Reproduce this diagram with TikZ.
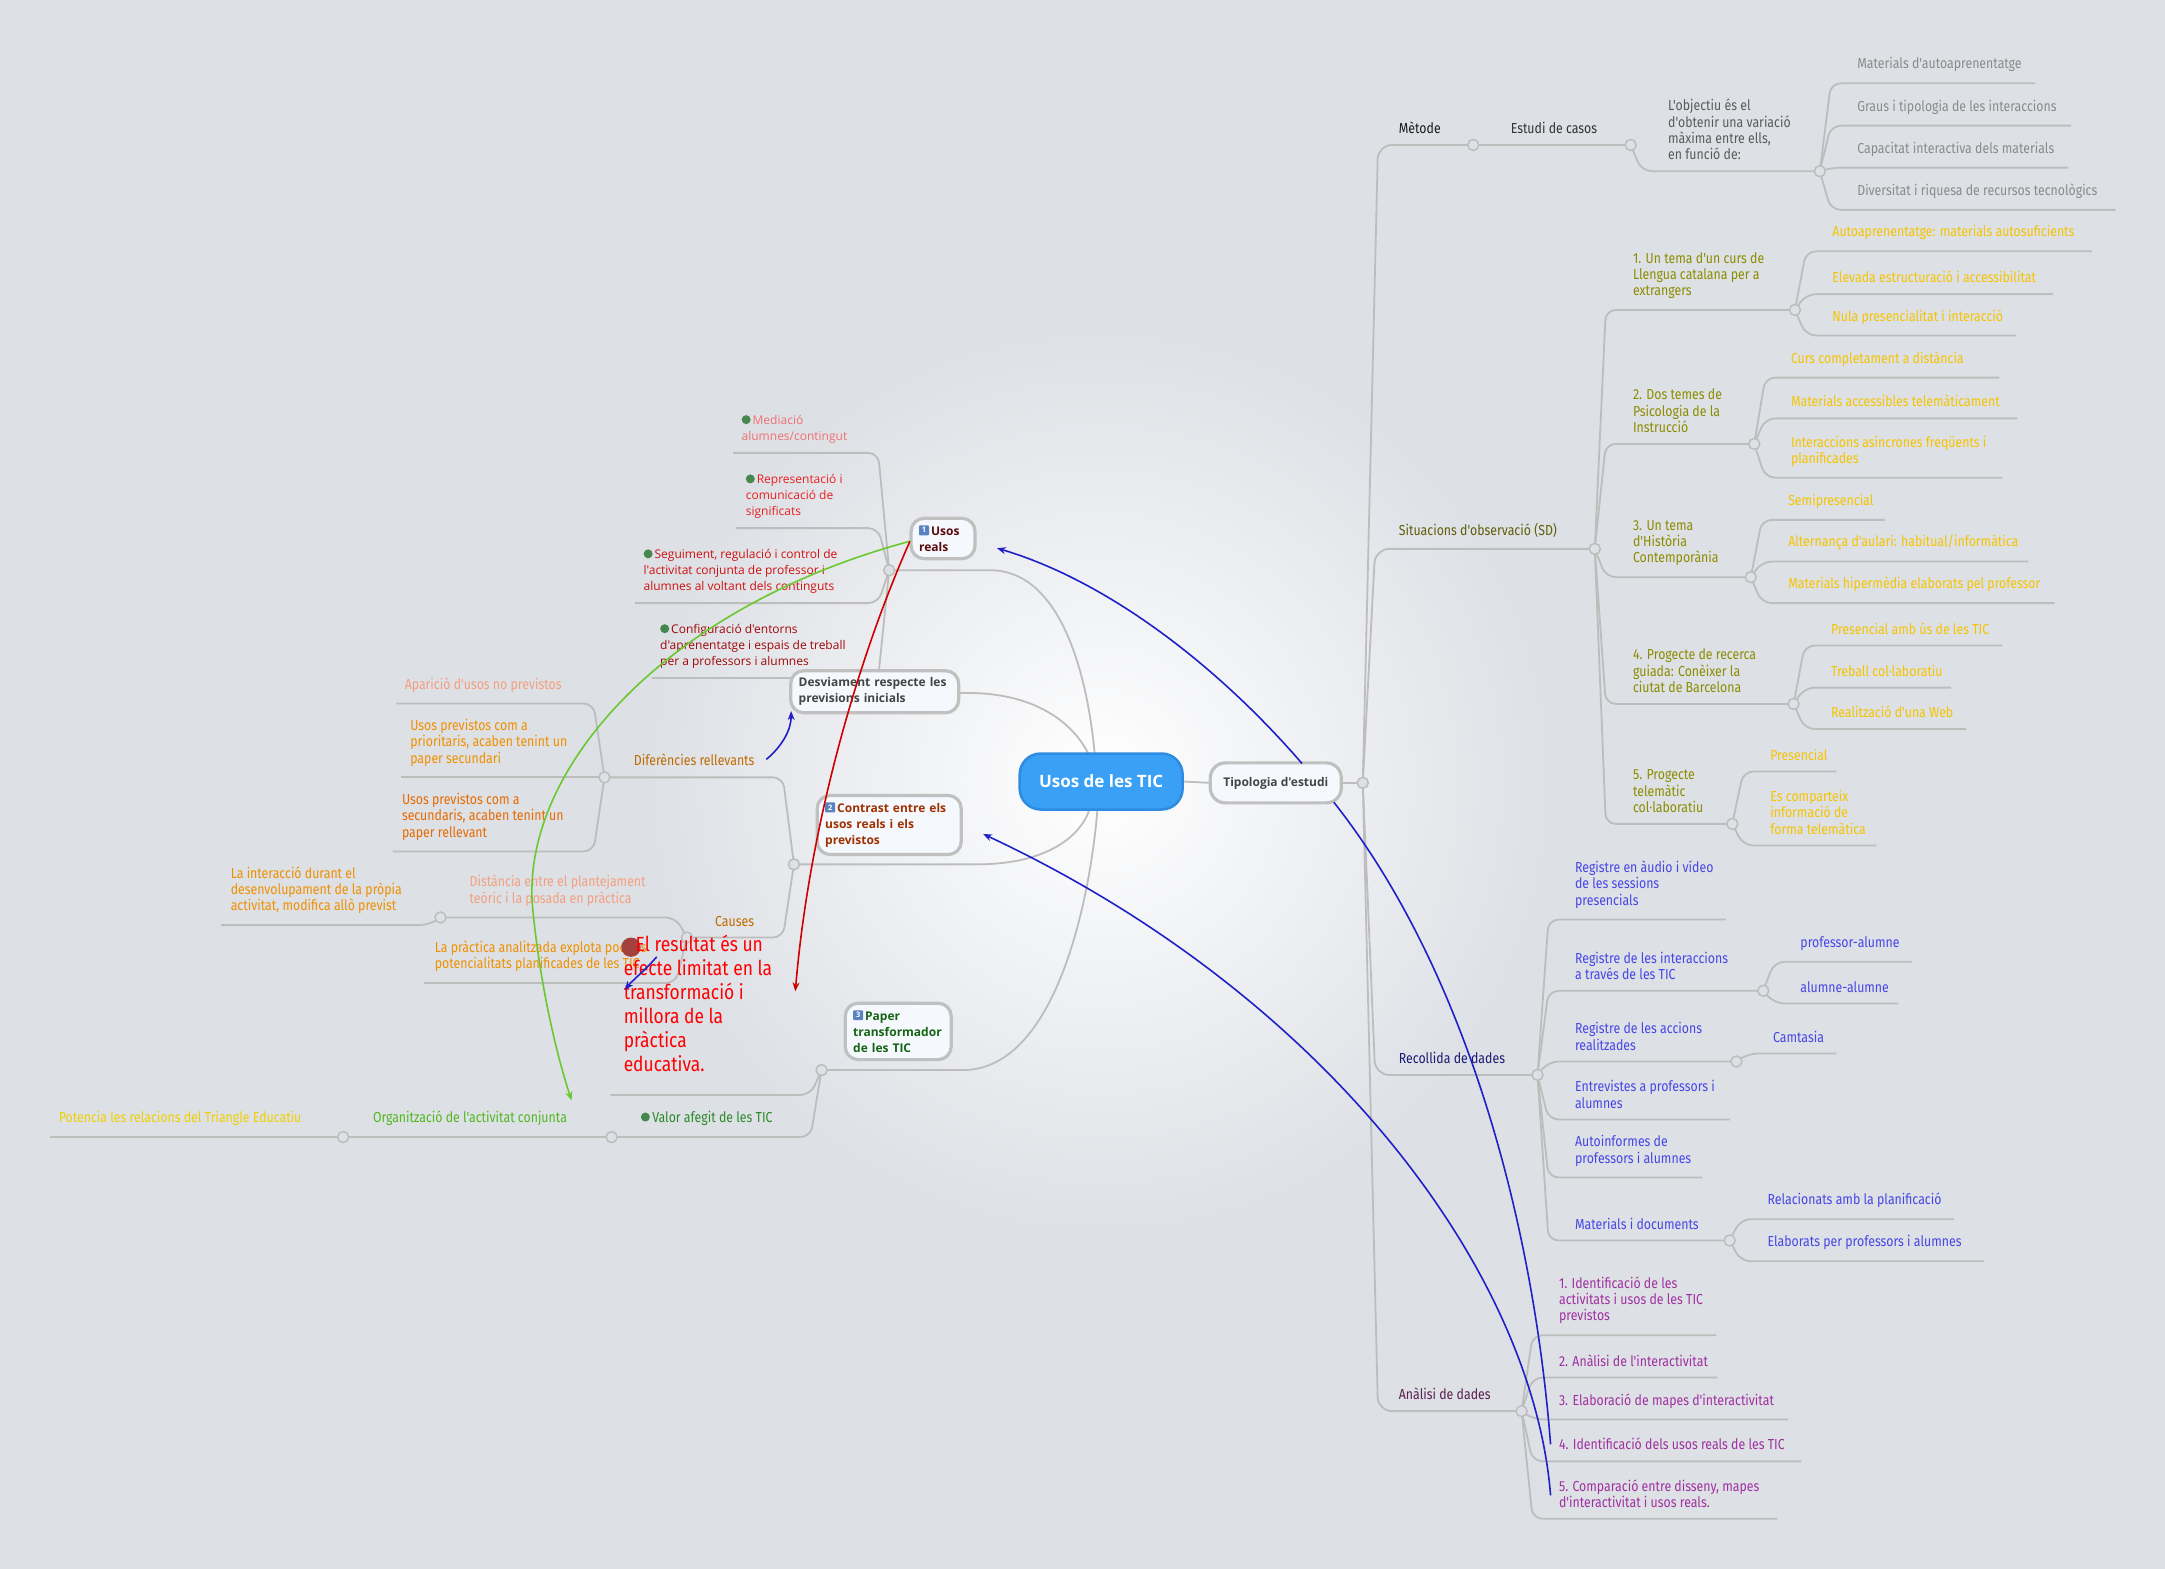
\documentclass[tikz,border=0pt]{standalone}
\usepackage{fontspec}
\setmainfont{Fira Sans}
\newfontfamily\cf{Fira Sans}[FakeStretch=0.85]
\newfontfamily\nf{Open Sans}
\usetikzlibrary{arrows.meta}
\definecolor{bg}{RGB}{221,224,229}
\definecolor{brc}{RGB}{189,189,189}
\definecolor{tblue}{RGB}{58,160,245}
\definecolor{tbluedk}{RGB}{45,140,225}
\definecolor{boxfill}{RGB}{245,248,252}
\definecolor{boxdraw}{RGB}{192,192,192}
\definecolor{icob}{RGB}{90,130,190}
\definecolor{dotg}{RGB}{70,135,80}
\definecolor{cBlack}{RGB}{26,26,26}
\definecolor{cEst}{RGB}{51,51,51}
\definecolor{cObj}{RGB}{90,90,90}
\definecolor{cGrey}{RGB}{138,138,138}
\definecolor{cSD}{RGB}{95,95,10}
\definecolor{cOl}{RGB}{140,140,0}
\definecolor{cYel}{RGB}{245,196,0}
\definecolor{cNavy}{RGB}{26,26,112}
\definecolor{cBlue}{RGB}{70,70,230}
\definecolor{cAn}{RGB}{90,32,80}
\definecolor{cPur}{RGB}{160,48,160}
\definecolor{cOrDk}{RGB}{192,106,0}
\definecolor{cSal}{RGB}{244,160,128}
\definecolor{cOr}{RGB}{240,144,0}
\definecolor{cOr2}{RGB}{232,106,0}
\definecolor{cLG}{RGB}{80,184,32}
\definecolor{cPot}{RGB}{240,208,0}
\definecolor{cVal}{RGB}{42,138,42}
\definecolor{cMed}{RGB}{240,112,112}
\definecolor{cRep}{RGB}{232,32,32}
\definecolor{cSeg}{RGB}{208,16,16}
\definecolor{cConf}{RGB}{160,8,8}
\definecolor{cMar}{RGB}{90,10,10}
\definecolor{cBrown}{RGB}{160,48,0}
\definecolor{cDG}{RGB}{20,100,20}
\definecolor{cBoxT}{RGB}{68,68,68}
\definecolor{cArrB}{RGB}{32,32,200}
\definecolor{cArrR}{RGB}{208,0,0}
\definecolor{cArrG}{RGB}{106,200,48}
\definecolor{cNoteDot}{RGB}{165,65,60}
\tikzset{
  br/.style={draw=brc,line width=1.8pt,rounded corners=10pt},
  cir/.style={circle,draw=brc,fill=bg,line width=1.5pt,minimum size=11pt,inner sep=0pt},
  lf/.style={inner sep=0pt,align=left,font=\cf\fontsize{14.5}{16.3}\selectfont},
  lfn/.style={inner sep=0pt,align=left,font=\nf\fontsize{12}{16}\selectfont},
  box/.style={draw=boxdraw,fill=boxfill,line width=3.2pt,rounded corners=13pt,align=left,inner xsep=8pt,inner ysep=7pt,font=\nf\fontsize{12}{16}\selectfont\bfseries},
  arr/.style={line width=1.6pt,-{Stealth[length=9pt,width=7pt]}},
}
\newcommand\lfx[5]{\node[lf,text=#4,anchor=south west] (#1) at (#2,#3-8) {#5};}
\newcommand\bR[4]{\draw[br] (#1,#2) -- (#1+8,#3) -- (#4,#3);}
\newcommand\bL[4]{\draw[br] (#1,#2) -- (#1-8,#3) -- (#4,#3);}
\newcommand\cir[3]{\node[cir] (#1) at (#2,#3) {};}
\newcommand\ico[1]{\tikz[baseline=-0.8ex]\node[fill=icob,text=white,inner sep=0pt,rounded corners=1pt,minimum size=10pt,font=\nf\fontsize{7.5}{8}\selectfont\bfseries]{#1};}
\newcommand\gd{\tikz[baseline=-0.7ex]\fill[dotg] (0,0) circle (4.5pt);\,}
\begin{document}
\begin{tikzpicture}[x=1.381pt,y=-1.381pt]
\fill[bg] (0,0) rectangle (1568,1136);
\useasboundingbox (0,0) rectangle (1568,1136);
\shade[inner color=white,outer color=bg] (797,566) circle (330);

% ---------- connectors from centre ----------
\draw[br] (644,413) -- (710,413) .. controls (765,413) and (787,480) .. (793,548);
\draw[br] (695,502) .. controls (750,500) and (780,525) .. (790,550);
\draw[br] (575,626) -- (700,626) .. controls (765,626) and (787,600) .. (790,582);
\draw[br] (595,775) -- (690,775) .. controls (765,775) and (790,650) .. (795,584);
\draw[br] (857,566) -- (876,567);
\draw[br] (971,567) -- (987,567);

% ---------- right trunk ----------
\draw[br,rounded corners=14pt] (987,567) -- (998,105) -- (1067,105);
\draw[br,rounded corners=14pt] (987,567) -- (996,397.5) -- (1155,397.5);
\draw[br,rounded corners=14pt] (987,567) -- (996,778.5) -- (1113.5,778.5);
\draw[br,rounded corners=14pt] (987,567) -- (998,1022) -- (1102,1022);

% Metode
\draw[br] (1067,105) -- (1181,105);
\bR{1181}{105}{124}{1318}
\bR{1318}{124}{60.3}{1474}
\bR{1318}{124}{91}{1500}
\bR{1318}{124}{121.4}{1498}
\bR{1318}{124}{152}{1532}
% SD
\bR{1155}{397.5}{224.5}{1300}
\bR{1155}{397.5}{321.5}{1270.5}
\bR{1155}{397.5}{418}{1268}
\bR{1155}{397.5}{509.8}{1299}
\bR{1155}{397.5}{596.7}{1254.6}
\bR{1300}{224.5}{182}{1515}
\bR{1300}{224.5}{213}{1487}
\bR{1300}{224.5}{243}{1460}
\bR{1270.5}{321.5}{273.5}{1448}
\bR{1270.5}{321.5}{303}{1461}
\bR{1270.5}{321.5}{346}{1450}
\bR{1268}{418}{376.5}{1365}
\bR{1268}{418}{406.7}{1469}
\bR{1268}{418}{436.8}{1488}
\bR{1299}{509.8}{467.5}{1450}
\bR{1299}{509.8}{498}{1413}
\bR{1299}{509.8}{528}{1424}
\bR{1254.6}{596.7}{558.8}{1330}
\bR{1254.6}{596.7}{612.4}{1359}
% Recollida
\bR{1113.5}{778.5}{666}{1250}
\bR{1113.5}{778.5}{717.6}{1277}
\bR{1113.5}{778.5}{768.8}{1257.6}
\bR{1113.5}{778.5}{810.8}{1253}
\bR{1113.5}{778.5}{852.8}{1233}
\bR{1113.5}{778.5}{898.4}{1252.7}
\bR{1277}{717.6}{696.6}{1384.6}
\bR{1277}{717.6}{726.8}{1374.7}
\bR{1257.6}{768.8}{763}{1330}
\bR{1252.7}{898.4}{883}{1415}
\bR{1252.7}{898.4}{913.5}{1437}
% Analisi
\bR{1102}{1022}{967}{1243}
\bR{1102}{1022}{997.6}{1244}
\bR{1102}{1022}{1028}{1295}
\bR{1102}{1022}{1058.4}{1304.5}
\bR{1102}{1022}{1100}{1287}

% ---------- left branches ----------
\bL{644}{413}{328}{531}
\bL{644}{413}{382.5}{533}
\bL{644}{413}{436.8}{460}
\bL{644}{413}{491}{472}
\bL{575}{626}{563}{437.8}
\bL{575}{626}{679}{497.5}
\bL{437.8}{563}{509.5}{287}
\bL{437.8}{563}{563}{290.7}
\bL{437.8}{563}{616.7}{284.6}
\bL{497.5}{679}{664.5}{319}
\bL{497.5}{679}{712}{307}
\bL{319}{664.5}{670}{160}
\bL{595}{775}{793}{442}
\bL{595}{775}{823.5}{443}
\draw[br] (443,823.5) -- (36,823.5);

% ---------- circles ----------
\cir{c0}{987}{567}
\cir{c1}{1067}{105}
\cir{c2}{1181}{105}
\cir{c3}{1318}{124}
\cir{c4}{1155}{397.5}
\cir{c41}{1300}{224.5}
\cir{c42}{1270.5}{321.5}
\cir{c43}{1268}{418}
\cir{c44}{1299}{509.8}
\cir{c45}{1254.6}{596.7}
\cir{c5}{1113.5}{778.5}
\cir{c51}{1277}{717.6}
\cir{c52}{1257.6}{768.8}
\cir{c53}{1252.7}{898.4}
\cir{c6}{1102}{1022}
\cir{cu}{644}{413}
\cir{cc}{575}{626}
\cir{cd}{437.8}{563}
\cir{cca}{497.5}{679}
\cir{cdi}{319}{664.5}
\cir{cp}{595}{775}
\cir{cv}{443}{823.5}
\cir{co}{248.5}{823.5}

% ---------- right texts ----------
\lfx{t1}{1013}{105}{cBlack}{Mètode}
\lfx{t2}{1094}{105}{cEst}{Estudi de casos}
\lfx{t3}{1208}{124}{cObj}{L'objectiu és el\\d'obtenir una variació\\màxima entre ells,\\en funció de:}
\lfx{t31}{1345}{60.3}{cGrey}{Materials d'autoaprenentatge}
\lfx{t32}{1345}{91}{cGrey}{Graus i tipologia de les interaccions}
\lfx{t33}{1345}{121.4}{cGrey}{Capacitat interactiva dels materials}
\lfx{t34}{1345}{152}{cGrey}{Diversitat i riquesa de recursos tecnològics}
\lfx{t4}{1013}{397.5}{cSD}{Situacions d'observació (SD)}
\lfx{t41}{1182.6}{224.5}{cOl}{1. Un tema d'un curs de\\Llengua catalana per a\\extrangers}
\lfx{t411}{1327}{182}{cYel}{Autoaprenentatge: materials autosuficients}
\lfx{t412}{1327}{213}{cYel}{Elevada estructuració i accessibilitat}
\lfx{t413}{1327}{243}{cYel}{Nula presencialitat i interacció}
\lfx{t42}{1182.6}{321.5}{cOl}{2. Dos temes de\\Psicologia de la\\Instrucció}
\lfx{t421}{1297}{273.5}{cYel}{Curs completament a distància}
\lfx{t422}{1297}{303}{cYel}{Materials accessibles telemàticament}
\lfx{t423}{1297}{346}{cYel}{Interaccions asíncrones freqüents i\\planificades}
\lfx{t43}{1182.6}{418}{cOl}{3. Un tema\\d'Història\\Contemporània}
\lfx{t431}{1295}{376.5}{cYel}{Semipresencial}
\lfx{t432}{1295}{406.7}{cYel}{Alternança d'aulari: habitual/informàtica}
\lfx{t433}{1295}{436.8}{cYel}{Materials hipermèdia elaborats pel professor}
\lfx{t44}{1182.6}{509.8}{cOl}{4. Progecte de recerca\\guiada: Conèixer la\\ciutat de Barcelona}
\lfx{t441}{1326}{467.5}{cYel}{Presencial amb ús de les TIC}
\lfx{t442}{1326}{498}{cYel}{Treball col·laboratiu}
\lfx{t443}{1326}{528}{cYel}{Realització d'una Web}
\lfx{t45}{1182.6}{596.7}{cOl}{5. Progecte\\telemàtic\\col·laboratiu}
\lfx{t451}{1282}{558.8}{cYel}{Presencial}
\lfx{t452}{1282}{612.4}{cYel}{Es comparteix\\informació de\\forma telemàtica}
\lfx{t5}{1013}{778.5}{cNavy}{Recollida de dades}
\lfx{t51}{1140.6}{666}{cBlue}{Registre en àudio i vídeo\\de les sessions\\presencials}
\lfx{t52}{1140.6}{717.6}{cBlue}{Registre de les interaccions\\a través de les TIC}
\lfx{t521}{1303.8}{696.6}{cBlue}{professor-alumne}
\lfx{t522}{1303.8}{726.8}{cBlue}{alumne-alumne}
\lfx{t53}{1140.6}{768.8}{cBlue}{Registre de les accions\\realitzades}
\lfx{t531}{1284}{763}{cBlue}{Camtasia}
\lfx{t54}{1140.6}{810.8}{cBlue}{Entrevistes a professors i\\alumnes}
\lfx{t55}{1140.6}{852.8}{cBlue}{Autoinformes de\\professors i alumnes}
\lfx{t56}{1140.6}{898.4}{cBlue}{Materials i documents}
\lfx{t561}{1280}{883}{cBlue}{Relacionats amb la planificació}
\lfx{t562}{1280}{913.5}{cBlue}{Elaborats per professors i alumnes}
\lfx{t6}{1013}{1022}{cAn}{Anàlisi de dades}
\lfx{t61}{1129}{967}{cPur}{1. Identificació de les\\activitats i usos de les TIC\\previstos}
\lfx{t62}{1129}{997.6}{cPur}{2. Anàlisi de l'interactivitat}
\lfx{t63}{1129}{1028}{cPur}{3. Elaboració de mapes d'interactivitat}
\lfx{t64}{1129}{1058.4}{cPur}{4. Identificació dels usos reals de les TIC}
\lfx{t65}{1129}{1100}{cPur}{5. Comparació entre disseny, mapes\\d'interactivitat i usos reals.}

% ---------- left texts ----------
\node[lfn,text=cMed,anchor=south west] (m1) at (537,321) {\gd Mediació\\alumnes/contingut};
\node[lfn,text=cRep,anchor=south west] (m2) at (540,375.5) {\gd Representació i\\comunicació de\\significats};
\node[lfn,text=cSeg,anchor=south west] (m3) at (466,429.8) {\gd Seguiment, regulació i control de\\l'activitat conjunta de professor i\\alumnes al voltant dels continguts};
\node[lfn,text=cConf,anchor=south west] (m4) at (478,484) {\gd Configuració d'entorns\\d'aprenentatge i espais de treball\\per a professors i alumnes};
\lfx{d0}{459}{563}{cOrDk}{Diferències rellevants}
\lfx{d1}{293}{509.5}{cSal}{Aparició d'usos no previstos}
\lfx{d2}{297}{563}{cOr}{Usos previstos com a\\prioritaris, acaben tenint un\\paper secundari}
\lfx{d3}{291}{616.7}{cOr2}{Usos previstos com a\\secundaris, acaben tenint un\\paper rellevant}
\lfx{ca}{517.8}{679}{cOrDk}{Causes}
\lfx{ca1}{340}{664.5}{cSal}{Distància entre el plantejament\\teòric i la posada en pràctica}
\lfx{ca11}{167}{670}{cOr}{La interacció durant el\\desenvolupament de la pròpia\\activitat, modifica allò previst}
\lfx{ca2}{314.8}{712}{cOr}{La pràctica analitzada explota poques\\potencialitats planificades de les TIC}
\lfx{v1}{270}{823.5}{cLG}{Organització de l'activitat conjunta}
\lfx{v2}{42.5}{823.5}{cPot}{Potencia les relacions del Triangle Educatiu}
\node[lf,text=cVal,anchor=south west] (v0) at (464,815.5) {\raisebox{0.3pt}{\tikz[baseline=-0.7ex]\fill[dotg] (0,0) circle (4.5pt);}\,Valor afegit de les TIC};
% note
\fill[cNoteDot] (457,686) circle (7);
\node[inner sep=0pt,align=left,text=red,anchor=north west,font=\cf\fontsize{20.5}{24}\selectfont] (note) at (451.6,677) {\hspace*{12pt}El resultat és un\\efecte limitat en la\\transformació i\\millora de la\\pràctica\\educativa.};

% ---------- boxes ----------
\node[draw=tbluedk,fill=tblue,line width=2.5pt,rounded corners=21pt,minimum width=163pt,minimum height=56pt,text=white,font=\nf\fontsize{17}{20}\selectfont\bfseries] (centre) at (797.5,566) {Usos de les TIC};
\node[box,minimum width=131pt,minimum height=40pt,text=cBoxT,font=\nf\fontsize{12}{14}\selectfont\bfseries,rounded corners=15pt] (tip) at (924,567) {Tipologia d'estudi};
\node[box,text width=48pt,text=cMar] (usos) at (683,390) {\ico{1}\,Usos\\reals};
\node[box,text width=152pt,text=cBoxT] (desv) at (633.5,501) {Desviament respecte les\\previsions inicials};
\node[box,text width=128pt,text=cBrown] (contr) at (644,597.5) {\ico{2}\,Contrast entre els\\usos reals i els\\previstos};
\node[box,text width=90pt,text=cDG] (paper) at (650.5,747) {\ico{3}\,Paper\\transformador\\de les TIC};

% ---------- arrows ----------
\coordinate (gE) at (414,797);
\coordinate (rE) at (576,718);
\coordinate (dS) at (555,550);
\coordinate (nS) at (475.6,693);
\coordinate (nE) at (452.5,717);
\coordinate (a4) at (1123,1046);
\coordinate (a5) at (1123,1083);
\draw[arr,draw=cArrG] (659,392) .. controls (480,440) and (375,560) .. (386,660) .. controls (392,720) and (405,770) .. (gE);
\draw[arr,draw=cArrR] (659,392) .. controls (620,480) and (586,600) .. (rE);
\draw[arr,draw=cArrB] (dS) .. controls (567,540) and (573,528) .. (573,515);
\draw[arr,draw=cArrB] (nS) .. controls (468,702) and (458,710) .. (nE);
\draw[arr,draw=cArrB] (943,553) .. controls (880,480) and (800,420) .. (722,397);
\draw[line width=1.6pt,draw=cArrB] (966,581) .. controls (1060,700) and (1110,880) .. (a4);
\draw[arr,draw=cArrB] (a5) .. controls (1110,920) and (960,720) .. (712,604);
\end{tikzpicture}
\end{document}
